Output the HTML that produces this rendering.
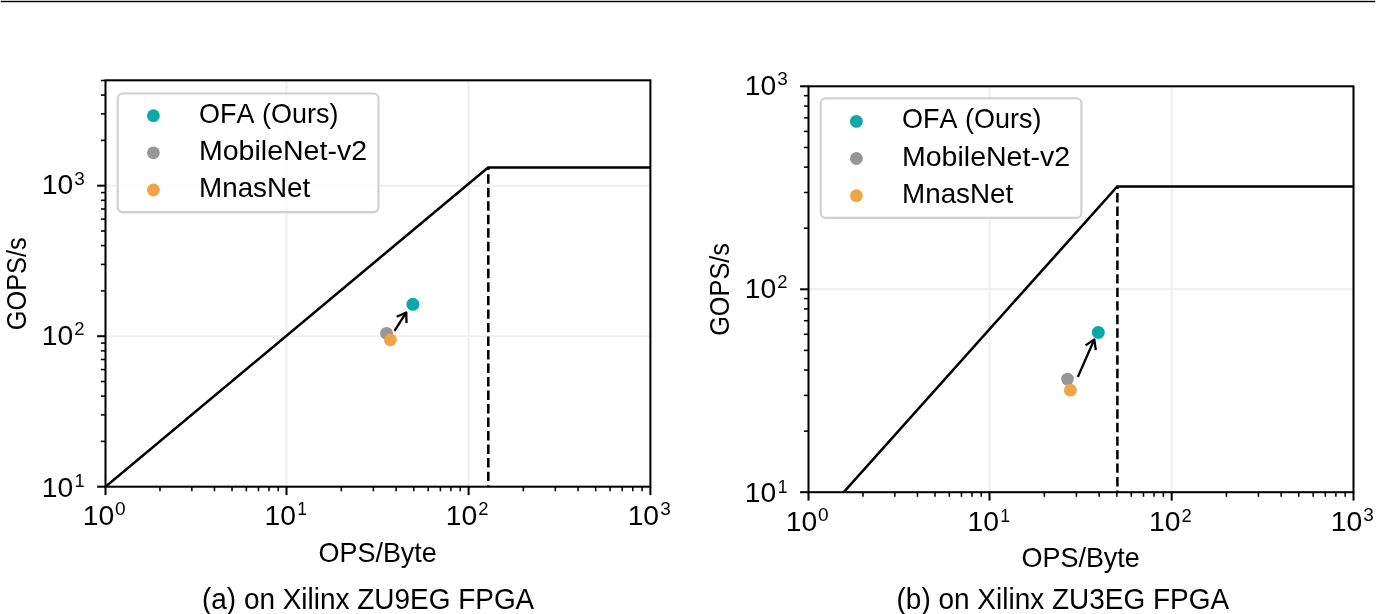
<!DOCTYPE html><html><head><meta charset="utf-8"><title>Roofline plots</title><style>html,body{margin:0;padding:0;background:#fff;overflow:hidden}svg{display:block;will-change:transform}text{font-family:"Liberation Sans",sans-serif;font-kerning:none;fill:#000}</style></head><body>
<svg width="1376" height="614" viewBox="0 0 1376 614">
<rect x="0" y="0" width="1376" height="614" fill="#fff"/>
<rect x="0.8" y="0.8" width="1374.4" height="1.4" fill="#000"/>
<g stroke="#efefef" stroke-width="2" fill="none">
<line x1="286.5" y1="80.3" x2="286.5" y2="486.7"/>
<line x1="468.6" y1="80.3" x2="468.6" y2="486.7"/>
<line x1="105.5" y1="336.2" x2="650.4" y2="336.2"/>
<line x1="105.5" y1="185.7" x2="650.4" y2="185.7"/>
</g>
<clipPath id="c0"><rect x="105.5" y="80.3" width="544.9" height="406.4"/></clipPath>
<g clip-path="url(#c0)" fill="none" stroke="#000" stroke-width="2.55">
<path d="M105.5,486.7 L488.1,167.5 L700,167.5" stroke-linejoin="miter" stroke-linecap="butt"/>
<line x1="488.3" y1="167.5" x2="488.3" y2="486.7" stroke-dasharray="9.44 4.08" stroke-dashoffset="6.82"/>
</g>
<g fill="none" stroke="#000" stroke-width="2.3" stroke-linecap="butt" stroke-linejoin="round"><line x1="394.5" y1="330.8" x2="406.26" y2="312.44"/><path d="M396.7,316.8 L406.26,312.44 L406.5,323"/></g>
<circle cx="412.9" cy="304.3" r="6.5" fill="#0ca8a8"/>
<circle cx="386.5" cy="333.3" r="6.4" fill="#979797"/>
<circle cx="390.4" cy="339.8" r="6.4" fill="#efa446"/>
<rect x="117.7" y="93.5" width="260.8" height="118.6" rx="5" ry="5" fill="#fff" fill-opacity="0.8" stroke="#cfcfcf" stroke-width="2.1"/>
<circle cx="153.4" cy="115.7" r="6.4" fill="#0ca8a8"/>
<text x="199.12" y="122.7" font-size="26.9" textLength="139.25" lengthAdjust="spacingAndGlyphs">OFA (Ours)</text>
<circle cx="153.4" cy="152.8" r="6.4" fill="#979797"/>
<text x="198.96" y="159.8" font-size="26.9" textLength="168.08" lengthAdjust="spacingAndGlyphs">MobileNet-v2</text>
<circle cx="153.4" cy="190" r="6.4" fill="#efa446"/>
<text x="199.02" y="197" font-size="26.9" textLength="111.29" lengthAdjust="spacingAndGlyphs">MnasNet</text>
<rect x="105.5" y="80.3" width="544.9" height="406.4" fill="none" stroke="#000" stroke-width="2.04" stroke-linejoin="miter"/>
<g stroke="#000" fill="none">
<line x1="105.5" y1="486.7" x2="105.5" y2="495.1" stroke-width="2.04"/>
<line x1="286.5" y1="486.7" x2="286.5" y2="495.1" stroke-width="2.04"/>
<line x1="468.6" y1="486.7" x2="468.6" y2="495.1" stroke-width="2.04"/>
<line x1="650.4" y1="486.7" x2="650.4" y2="495.1" stroke-width="2.04"/>
<line x1="159.99" y1="486.7" x2="159.99" y2="491.3" stroke-width="1.55"/>
<line x1="191.86" y1="486.7" x2="191.86" y2="491.3" stroke-width="1.55"/>
<line x1="214.47" y1="486.7" x2="214.47" y2="491.3" stroke-width="1.55"/>
<line x1="232.01" y1="486.7" x2="232.01" y2="491.3" stroke-width="1.55"/>
<line x1="246.35" y1="486.7" x2="246.35" y2="491.3" stroke-width="1.55"/>
<line x1="258.46" y1="486.7" x2="258.46" y2="491.3" stroke-width="1.55"/>
<line x1="268.96" y1="486.7" x2="268.96" y2="491.3" stroke-width="1.55"/>
<line x1="278.22" y1="486.7" x2="278.22" y2="491.3" stroke-width="1.55"/>
<line x1="341.32" y1="486.7" x2="341.32" y2="491.3" stroke-width="1.55"/>
<line x1="373.38" y1="486.7" x2="373.38" y2="491.3" stroke-width="1.55"/>
<line x1="396.14" y1="486.7" x2="396.14" y2="491.3" stroke-width="1.55"/>
<line x1="413.78" y1="486.7" x2="413.78" y2="491.3" stroke-width="1.55"/>
<line x1="428.2" y1="486.7" x2="428.2" y2="491.3" stroke-width="1.55"/>
<line x1="440.39" y1="486.7" x2="440.39" y2="491.3" stroke-width="1.55"/>
<line x1="450.95" y1="486.7" x2="450.95" y2="491.3" stroke-width="1.55"/>
<line x1="460.27" y1="486.7" x2="460.27" y2="491.3" stroke-width="1.55"/>
<line x1="523.33" y1="486.7" x2="523.33" y2="491.3" stroke-width="1.55"/>
<line x1="555.34" y1="486.7" x2="555.34" y2="491.3" stroke-width="1.55"/>
<line x1="578.05" y1="486.7" x2="578.05" y2="491.3" stroke-width="1.55"/>
<line x1="595.67" y1="486.7" x2="595.67" y2="491.3" stroke-width="1.55"/>
<line x1="610.07" y1="486.7" x2="610.07" y2="491.3" stroke-width="1.55"/>
<line x1="622.24" y1="486.7" x2="622.24" y2="491.3" stroke-width="1.55"/>
<line x1="632.78" y1="486.7" x2="632.78" y2="491.3" stroke-width="1.55"/>
<line x1="642.08" y1="486.7" x2="642.08" y2="491.3" stroke-width="1.55"/>
<line x1="105.5" y1="486.7" x2="97.1" y2="486.7" stroke-width="2.04"/>
<line x1="105.5" y1="336.2" x2="97.1" y2="336.2" stroke-width="2.04"/>
<line x1="105.5" y1="185.7" x2="97.1" y2="185.7" stroke-width="2.04"/>
<line x1="105.5" y1="441.39" x2="100.9" y2="441.39" stroke-width="1.55"/>
<line x1="105.5" y1="414.89" x2="100.9" y2="414.89" stroke-width="1.55"/>
<line x1="105.5" y1="396.09" x2="100.9" y2="396.09" stroke-width="1.55"/>
<line x1="105.5" y1="381.51" x2="100.9" y2="381.51" stroke-width="1.55"/>
<line x1="105.5" y1="369.59" x2="100.9" y2="369.59" stroke-width="1.55"/>
<line x1="105.5" y1="359.51" x2="100.9" y2="359.51" stroke-width="1.55"/>
<line x1="105.5" y1="350.78" x2="100.9" y2="350.78" stroke-width="1.55"/>
<line x1="105.5" y1="343.09" x2="100.9" y2="343.09" stroke-width="1.55"/>
<line x1="105.5" y1="290.89" x2="100.9" y2="290.89" stroke-width="1.55"/>
<line x1="105.5" y1="264.39" x2="100.9" y2="264.39" stroke-width="1.55"/>
<line x1="105.5" y1="245.59" x2="100.9" y2="245.59" stroke-width="1.55"/>
<line x1="105.5" y1="231.01" x2="100.9" y2="231.01" stroke-width="1.55"/>
<line x1="105.5" y1="219.09" x2="100.9" y2="219.09" stroke-width="1.55"/>
<line x1="105.5" y1="209.01" x2="100.9" y2="209.01" stroke-width="1.55"/>
<line x1="105.5" y1="200.28" x2="100.9" y2="200.28" stroke-width="1.55"/>
<line x1="105.5" y1="192.59" x2="100.9" y2="192.59" stroke-width="1.55"/>
<line x1="105.5" y1="140.39" x2="100.9" y2="140.39" stroke-width="1.55"/>
<line x1="105.5" y1="113.89" x2="100.9" y2="113.89" stroke-width="1.55"/>
<line x1="105.5" y1="95.09" x2="100.9" y2="95.09" stroke-width="1.55"/>
<line x1="105.5" y1="80.51" x2="100.9" y2="80.51" stroke-width="1.55"/>
</g>
<text x="82.75" y="524.75" font-size="27.97" textLength="31.46" lengthAdjust="spacingAndGlyphs">10</text>
<text x="115.06" y="514.95" font-size="18.36" textLength="10.59" lengthAdjust="spacingAndGlyphs">0</text>
<text x="264.45" y="524.75" font-size="27.97" textLength="31.46" lengthAdjust="spacingAndGlyphs">10</text>
<text x="297.36" y="515.2" font-size="18.62" textLength="9.8" lengthAdjust="spacingAndGlyphs">1</text>
<text x="445.85" y="524.75" font-size="27.97" textLength="31.46" lengthAdjust="spacingAndGlyphs">10</text>
<text x="478.37" y="515.2" font-size="18.62" textLength="10.25" lengthAdjust="spacingAndGlyphs">2</text>
<text x="627.65" y="524.75" font-size="27.97" textLength="31.46" lengthAdjust="spacingAndGlyphs">10</text>
<text x="660.18" y="514.95" font-size="18.36" textLength="10.56" lengthAdjust="spacingAndGlyphs">3</text>
<text x="41.85" y="496.55" font-size="26.98" textLength="31.46" lengthAdjust="spacingAndGlyphs">10</text>
<text x="74.76" y="487.2" font-size="18.62" textLength="9.8" lengthAdjust="spacingAndGlyphs">1</text>
<text x="41.85" y="344.55" font-size="26.98" textLength="31.46" lengthAdjust="spacingAndGlyphs">10</text>
<text x="74.37" y="335.2" font-size="18.62" textLength="10.25" lengthAdjust="spacingAndGlyphs">2</text>
<text x="41.85" y="194.25" font-size="26.98" textLength="31.46" lengthAdjust="spacingAndGlyphs">10</text>
<text x="74.38" y="184.65" font-size="18.36" textLength="10.56" lengthAdjust="spacingAndGlyphs">3</text>
<text x="318.52" y="561.7" font-size="27.4" textLength="118.27" lengthAdjust="spacingAndGlyphs">OPS/Byte</text>
<text transform="translate(26.4,328.9) rotate(-90)" x="-1.27" y="0" font-size="27.4" textLength="92.89" lengthAdjust="spacingAndGlyphs">GOPS/s</text>
<g stroke="#efefef" stroke-width="2" fill="none">
<line x1="989.5" y1="86.3" x2="989.5" y2="492.2"/>
<line x1="1171.7" y1="86.3" x2="1171.7" y2="492.2"/>
<line x1="808.5" y1="289.3" x2="1353.5" y2="289.3"/>
</g>
<clipPath id="c703"><rect x="808.5" y="86.3" width="545" height="405.9"/></clipPath>
<g clip-path="url(#c703)" fill="none" stroke="#000" stroke-width="2.55">
<path d="M747.25,600 L1117.3,186.5 L1400,186.5" stroke-linejoin="miter" stroke-linecap="butt"/>
<line x1="1117.4" y1="186.5" x2="1117.4" y2="492.2" stroke-dasharray="9.44 4.08" stroke-dashoffset="7"/>
</g>
<g fill="none" stroke="#000" stroke-width="2.3" stroke-linecap="butt" stroke-linejoin="round"><line x1="1077.8" y1="377" x2="1094.3" y2="339.42"/><path d="M1085.6,345.4 L1094.3,339.42 L1095.8,350.2"/></g>
<circle cx="1098.3" cy="332.4" r="6.5" fill="#0ca8a8"/>
<circle cx="1067.5" cy="379.1" r="6.4" fill="#979797"/>
<circle cx="1070.4" cy="390.2" r="6.4" fill="#efa446"/>
<rect x="820.7" y="98.2" width="260.7" height="119.7" rx="5" ry="5" fill="#fff" fill-opacity="0.8" stroke="#cfcfcf" stroke-width="2.1"/>
<circle cx="856.4" cy="121.4" r="6.4" fill="#0ca8a8"/>
<text x="902.12" y="128.4" font-size="26.9" textLength="139.25" lengthAdjust="spacingAndGlyphs">OFA (Ours)</text>
<circle cx="856.4" cy="158.5" r="6.4" fill="#979797"/>
<text x="901.96" y="165.5" font-size="26.9" textLength="168.08" lengthAdjust="spacingAndGlyphs">MobileNet-v2</text>
<circle cx="856.4" cy="195.7" r="6.4" fill="#efa446"/>
<text x="902.02" y="202.7" font-size="26.9" textLength="111.29" lengthAdjust="spacingAndGlyphs">MnasNet</text>
<rect x="808.5" y="86.3" width="545" height="405.9" fill="none" stroke="#000" stroke-width="2.04" stroke-linejoin="miter"/>
<g stroke="#000" fill="none">
<line x1="808.5" y1="492.2" x2="808.5" y2="500.6" stroke-width="2.04"/>
<line x1="989.5" y1="492.2" x2="989.5" y2="500.6" stroke-width="2.04"/>
<line x1="1171.7" y1="492.2" x2="1171.7" y2="500.6" stroke-width="2.04"/>
<line x1="1353.5" y1="492.2" x2="1353.5" y2="500.6" stroke-width="2.04"/>
<line x1="862.99" y1="492.2" x2="862.99" y2="496.8" stroke-width="1.55"/>
<line x1="894.86" y1="492.2" x2="894.86" y2="496.8" stroke-width="1.55"/>
<line x1="917.47" y1="492.2" x2="917.47" y2="496.8" stroke-width="1.55"/>
<line x1="935.01" y1="492.2" x2="935.01" y2="496.8" stroke-width="1.55"/>
<line x1="949.35" y1="492.2" x2="949.35" y2="496.8" stroke-width="1.55"/>
<line x1="961.46" y1="492.2" x2="961.46" y2="496.8" stroke-width="1.55"/>
<line x1="971.96" y1="492.2" x2="971.96" y2="496.8" stroke-width="1.55"/>
<line x1="981.22" y1="492.2" x2="981.22" y2="496.8" stroke-width="1.55"/>
<line x1="1044.35" y1="492.2" x2="1044.35" y2="496.8" stroke-width="1.55"/>
<line x1="1076.43" y1="492.2" x2="1076.43" y2="496.8" stroke-width="1.55"/>
<line x1="1099.2" y1="492.2" x2="1099.2" y2="496.8" stroke-width="1.55"/>
<line x1="1116.85" y1="492.2" x2="1116.85" y2="496.8" stroke-width="1.55"/>
<line x1="1131.28" y1="492.2" x2="1131.28" y2="496.8" stroke-width="1.55"/>
<line x1="1143.48" y1="492.2" x2="1143.48" y2="496.8" stroke-width="1.55"/>
<line x1="1154.04" y1="492.2" x2="1154.04" y2="496.8" stroke-width="1.55"/>
<line x1="1163.36" y1="492.2" x2="1163.36" y2="496.8" stroke-width="1.55"/>
<line x1="1226.43" y1="492.2" x2="1226.43" y2="496.8" stroke-width="1.55"/>
<line x1="1258.44" y1="492.2" x2="1258.44" y2="496.8" stroke-width="1.55"/>
<line x1="1281.15" y1="492.2" x2="1281.15" y2="496.8" stroke-width="1.55"/>
<line x1="1298.77" y1="492.2" x2="1298.77" y2="496.8" stroke-width="1.55"/>
<line x1="1313.17" y1="492.2" x2="1313.17" y2="496.8" stroke-width="1.55"/>
<line x1="1325.34" y1="492.2" x2="1325.34" y2="496.8" stroke-width="1.55"/>
<line x1="1335.88" y1="492.2" x2="1335.88" y2="496.8" stroke-width="1.55"/>
<line x1="1345.18" y1="492.2" x2="1345.18" y2="496.8" stroke-width="1.55"/>
<line x1="808.5" y1="492.2" x2="800.1" y2="492.2" stroke-width="2.04"/>
<line x1="808.5" y1="289.3" x2="800.1" y2="289.3" stroke-width="2.04"/>
<line x1="808.5" y1="86.3" x2="800.1" y2="86.3" stroke-width="2.04"/>
<line x1="808.5" y1="431.12" x2="803.9" y2="431.12" stroke-width="1.55"/>
<line x1="808.5" y1="395.39" x2="803.9" y2="395.39" stroke-width="1.55"/>
<line x1="808.5" y1="370.04" x2="803.9" y2="370.04" stroke-width="1.55"/>
<line x1="808.5" y1="350.38" x2="803.9" y2="350.38" stroke-width="1.55"/>
<line x1="808.5" y1="334.31" x2="803.9" y2="334.31" stroke-width="1.55"/>
<line x1="808.5" y1="320.73" x2="803.9" y2="320.73" stroke-width="1.55"/>
<line x1="808.5" y1="308.96" x2="803.9" y2="308.96" stroke-width="1.55"/>
<line x1="808.5" y1="298.58" x2="803.9" y2="298.58" stroke-width="1.55"/>
<line x1="808.5" y1="228.22" x2="803.9" y2="228.22" stroke-width="1.55"/>
<line x1="808.5" y1="192.49" x2="803.9" y2="192.49" stroke-width="1.55"/>
<line x1="808.5" y1="167.14" x2="803.9" y2="167.14" stroke-width="1.55"/>
<line x1="808.5" y1="147.48" x2="803.9" y2="147.48" stroke-width="1.55"/>
<line x1="808.5" y1="131.41" x2="803.9" y2="131.41" stroke-width="1.55"/>
<line x1="808.5" y1="117.83" x2="803.9" y2="117.83" stroke-width="1.55"/>
<line x1="808.5" y1="106.06" x2="803.9" y2="106.06" stroke-width="1.55"/>
<line x1="808.5" y1="95.68" x2="803.9" y2="95.68" stroke-width="1.55"/>
</g>
<text x="785.75" y="531.25" font-size="27.97" textLength="31.46" lengthAdjust="spacingAndGlyphs">10</text>
<text x="818.06" y="521.45" font-size="18.36" textLength="10.59" lengthAdjust="spacingAndGlyphs">0</text>
<text x="967.45" y="531.25" font-size="27.97" textLength="31.46" lengthAdjust="spacingAndGlyphs">10</text>
<text x="1000.36" y="521.7" font-size="18.62" textLength="9.8" lengthAdjust="spacingAndGlyphs">1</text>
<text x="1148.95" y="531.25" font-size="27.97" textLength="31.46" lengthAdjust="spacingAndGlyphs">10</text>
<text x="1181.47" y="521.7" font-size="18.62" textLength="10.25" lengthAdjust="spacingAndGlyphs">2</text>
<text x="1330.75" y="531.25" font-size="27.97" textLength="31.46" lengthAdjust="spacingAndGlyphs">10</text>
<text x="1363.28" y="521.45" font-size="18.36" textLength="10.56" lengthAdjust="spacingAndGlyphs">3</text>
<text x="744.85" y="502.05" font-size="26.98" textLength="31.46" lengthAdjust="spacingAndGlyphs">10</text>
<text x="777.76" y="492.7" font-size="18.62" textLength="9.8" lengthAdjust="spacingAndGlyphs">1</text>
<text x="744.85" y="297.65" font-size="26.98" textLength="31.46" lengthAdjust="spacingAndGlyphs">10</text>
<text x="777.37" y="288.3" font-size="18.62" textLength="10.25" lengthAdjust="spacingAndGlyphs">2</text>
<text x="744.85" y="94.85" font-size="26.98" textLength="31.46" lengthAdjust="spacingAndGlyphs">10</text>
<text x="777.38" y="85.25" font-size="18.36" textLength="10.56" lengthAdjust="spacingAndGlyphs">3</text>
<text x="1021.52" y="567.4" font-size="27.4" textLength="118.27" lengthAdjust="spacingAndGlyphs">OPS/Byte</text>
<text transform="translate(729.4,334.6) rotate(-90)" x="-1.27" y="0" font-size="27.4" textLength="92.89" lengthAdjust="spacingAndGlyphs">GOPS/s</text>
<text x="201.97" y="608.8" font-size="28.6" textLength="332.29" lengthAdjust="spacingAndGlyphs">(a) on Xilinx ZU9EG FPGA</text>
<text x="896.57" y="608.9" font-size="28.6" textLength="332.49" lengthAdjust="spacingAndGlyphs">(b) on Xilinx ZU3EG FPGA</text>
</svg></body></html>
